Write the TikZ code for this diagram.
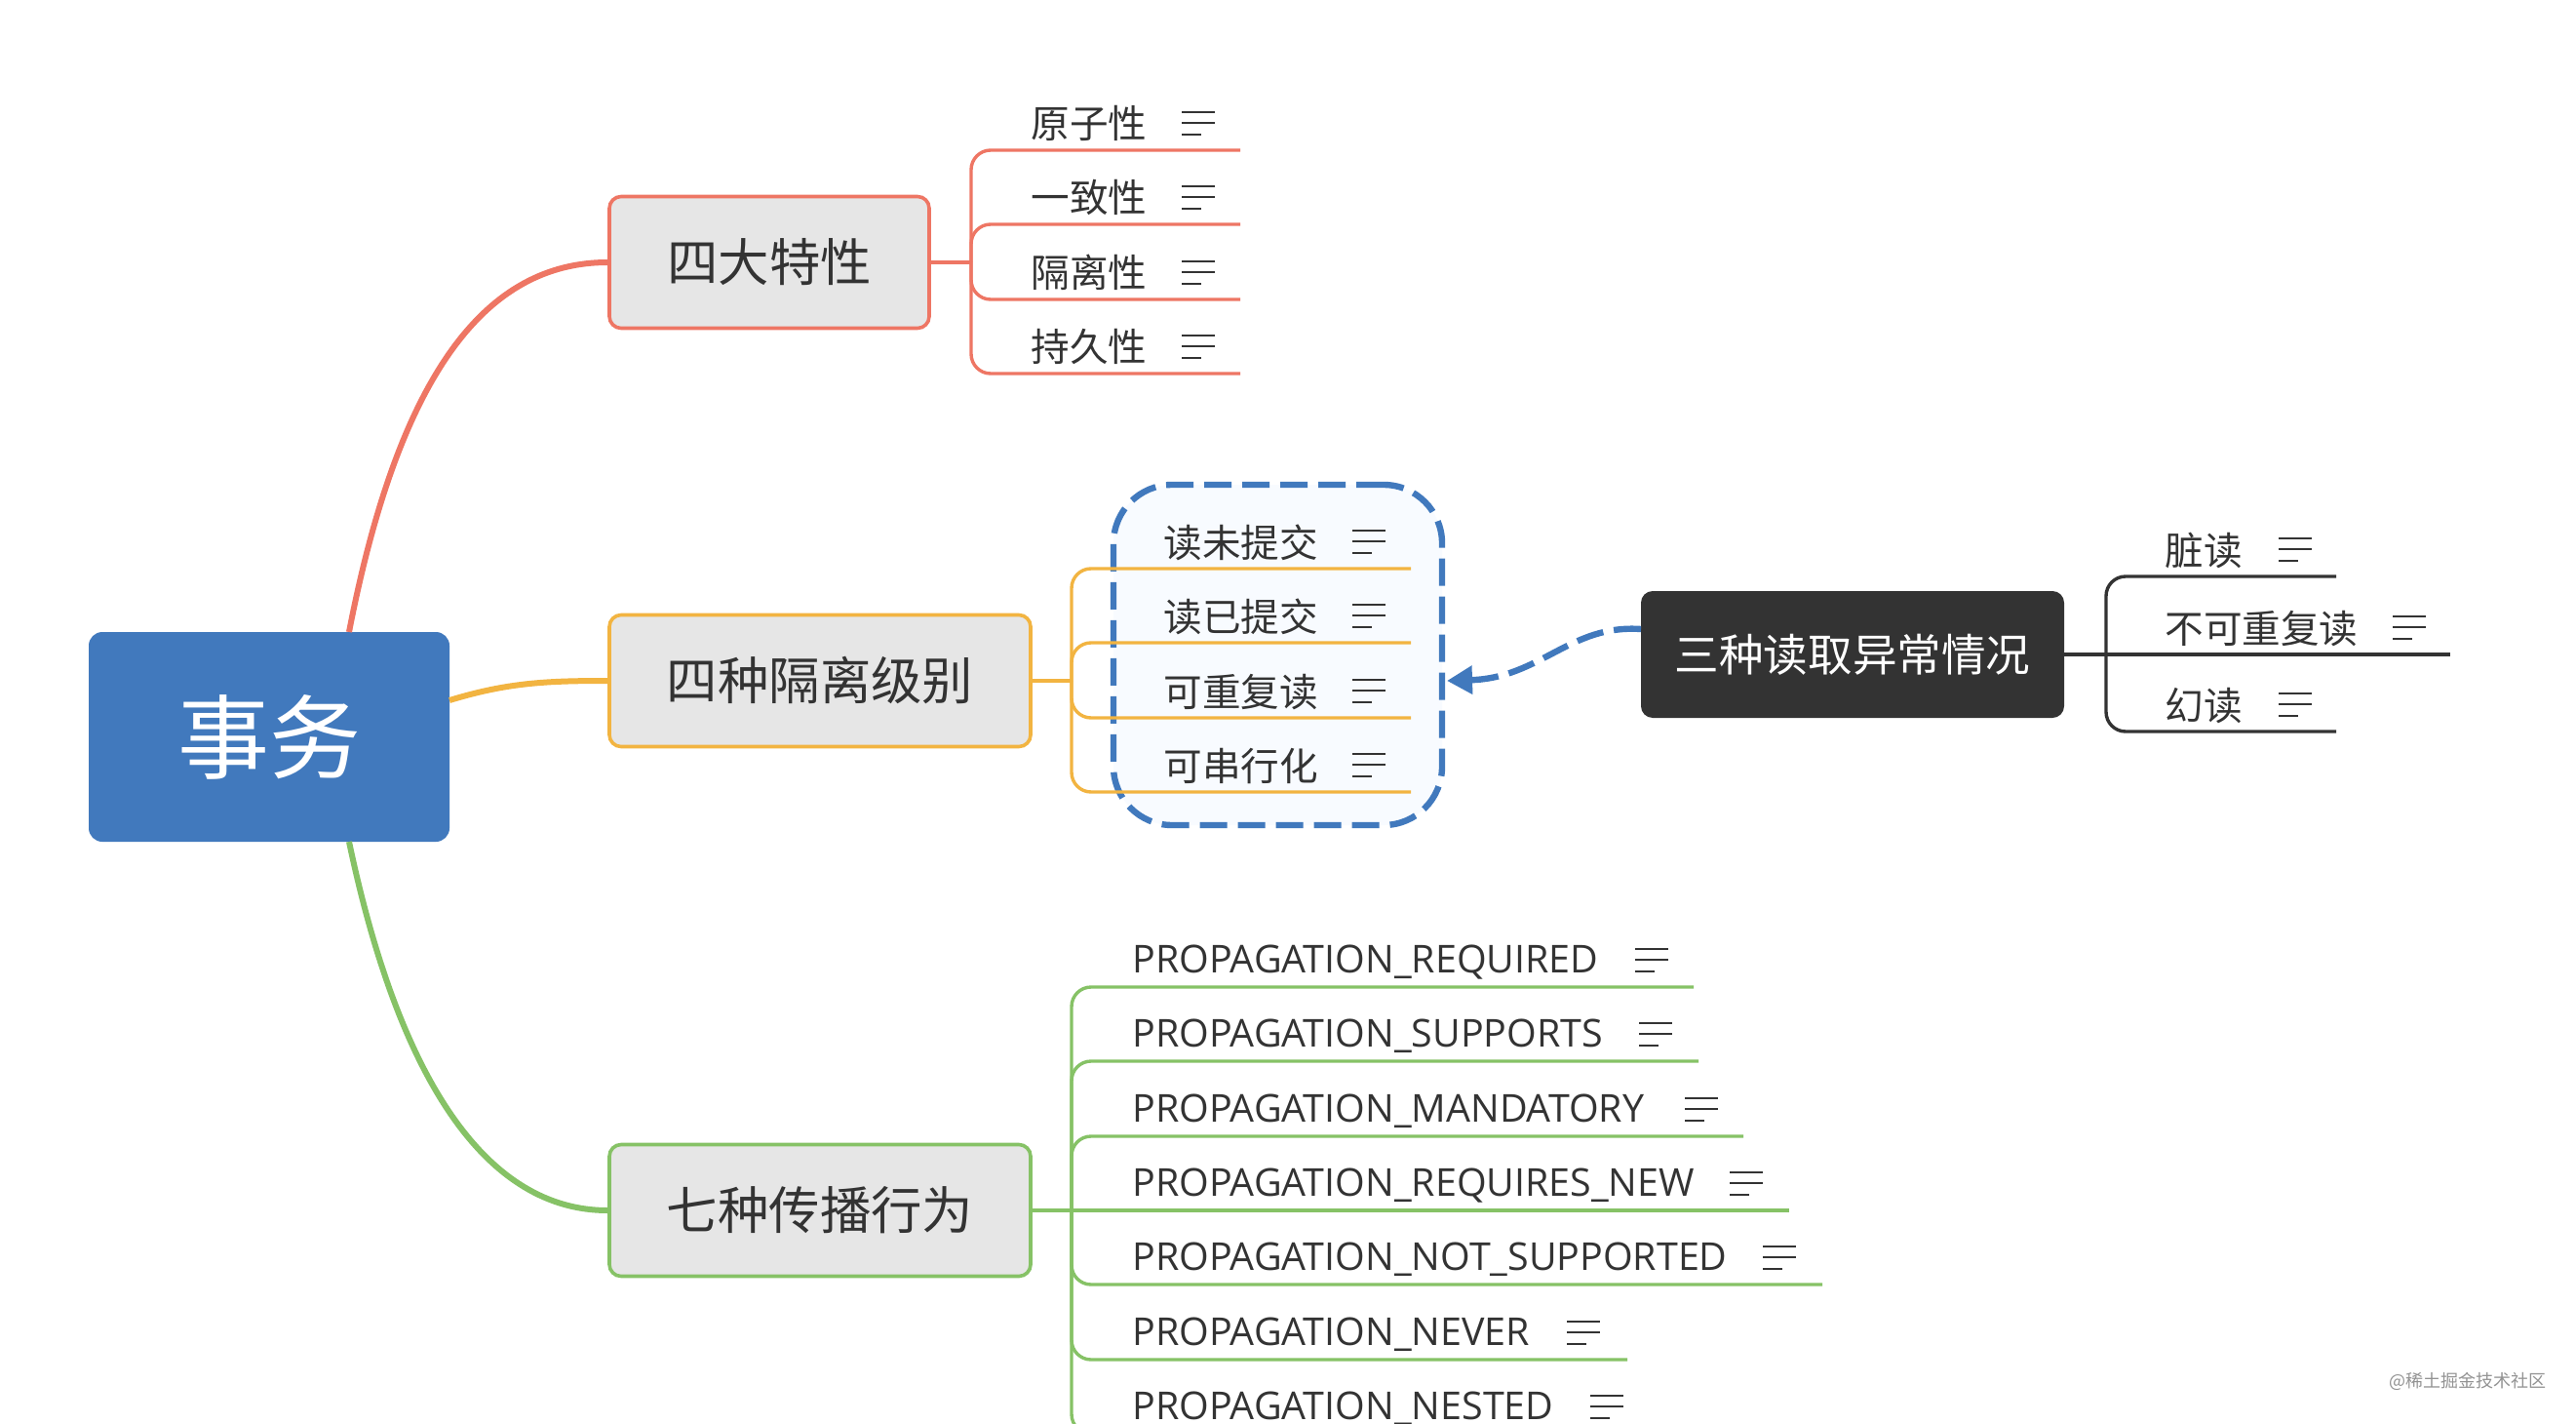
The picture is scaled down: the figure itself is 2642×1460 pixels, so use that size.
\documentclass[tikz,border=0pt]{standalone}
\usepackage{fontspec}
\setmainfont{Open Sans}
\newfontfamily\cjk{Noto Sans CJK SC}
\usetikzlibrary{arrows.meta}
\definecolor{cred}{HTML}{EE7664}
\definecolor{cyel}{HTML}{F2B441}
\definecolor{cgrn}{HTML}{86C266}
\definecolor{cblu}{HTML}{4179BD}
\definecolor{cdrk}{HTML}{333333}
\definecolor{cbox}{HTML}{E6E6E6}
\definecolor{cpale}{HTML}{F8FBFF}
\tikzset{
  x=0.5pt,y=-0.5pt,
  roottopic/.style={fill=cblu,rounded corners=7pt,text=white,inner sep=0pt,minimum width=185pt,minimum height=107.5pt,font=\cjk\fontsize{47}{52}\selectfont},
  maintopic/.style={fill=cbox,draw=#1,line width=1.8pt,rounded corners=6pt,text=cdrk,inner sep=0pt,minimum height=67.5pt,font=\cjk\fontsize{26.2}{30}\selectfont},
  darktopic/.style={fill=cdrk,rounded corners=6pt,text=white,inner sep=0pt,minimum width=217pt,minimum height=65pt,font=\cjk\fontsize{22.8}{26}\selectfont},
  groupbox/.style={fill=cpale,draw=cblu,line width=3.2pt,dash pattern=on 14pt off 5.5pt,rounded corners=30pt,inner sep=0pt,minimum width=168.5pt,minimum height=174.5pt},
  leaftext/.style={text=cdrk,inner sep=0pt,anchor=base west},
  zh/.style={font=\cjk\fontsize{19.8}{23}\selectfont},
  en/.style={font=\fontsize{19.7}{23}\selectfont},
  iconline/.style={draw=cdrk,line width=1.45pt},
  curve/.style={draw=#1,line width=3pt},
  branch/.style={draw=#1,line width=1.7pt,rounded corners=10pt},
  stem/.style={draw=#1,line width=2.1pt},
  note/.style={text=gray!85,inner sep=0pt,font=\cjk\fontsize{9}{11}\selectfont},
}
% name, font style, text, text x, rule y, right x, icon x
\newcommand{\leafrow}[7]{%
  \node[leaftext,#2] (#1) at (#4,{#5-12}) {#3};
  \coordinate (#1e) at (#6,#5);
  \draw[iconline] (#7,{#5-39}) -- +(34,0);
  \draw[iconline] (#7,{#5-28}) -- +(34,0);
  \draw[iconline] (#7,{#5-16}) -- +(20,0);
}
\newcommand{\enrow}[7]{%
  \node[leaftext,#2] (#1) at (#4,{#5-15}) {#3};
  \coordinate (#1e) at (#6,#5);
  \draw[iconline] (#7,{#5-39}) -- +(34,0);
  \draw[iconline] (#7,{#5-28}) -- +(34,0);
  \draw[iconline] (#7,{#5-16}) -- +(20,0);
}
\begin{document}
\begin{tikzpicture}
\useasboundingbox (0,0) rectangle (2642,1460);
\fill[white] (0,0) rectangle (2642,1460);
\begin{scope}
\clip (0,0) rectangle (2642,1460);
% group
\node[groupbox] (group) at (1310.5,671.5) {};
% topics
\node[roottopic] (root) at (276,755.5) {事务};
\node[maintopic=cred,minimum width=164pt] (t1) at (789,269) {四大特性};
\node[maintopic=cyel,minimum width=216pt] (t2) at (841,698) {四种隔离级别};
\node[maintopic=cgrn,minimum width=216pt] (t3) at (841,1241) {七种传播行为};
\node[darktopic] (dark) at (1900,671) {三种读取异常情况};
% curves
\coordinate (rA) at (358,648);
\coordinate (yA) at (461,718);
\coordinate (gA) at (358,863);
\draw[curve=cred] (rA) .. controls (410,380) and (500,269) .. (t1.west);
\draw[curve=cyel] (yA) .. controls (520,700) and (560,698) .. (t2.west);
\draw[curve=cgrn] (gA) .. controls (410,1110) and (500,1241) .. (t3.west);
% red
\coordinate (s1) at (996,269);
\draw[stem=cred] (t1.east) -- (s1);
\leafrow{a1}{zh}{原子性}{1057}{154}{1272}{1212}
\leafrow{a2}{zh}{一致性}{1057}{230}{1272}{1212}
\leafrow{a3}{zh}{隔离性}{1057}{307}{1272}{1212}
\leafrow{a4}{zh}{持久性}{1057}{383}{1272}{1212}
\foreach \n in {a1,a2,a3,a4} \draw[branch=cred] (s1) |- (\n e);
% yellow
\coordinate (s2) at (1099,698);
\draw[stem=cyel] (t2.east) -- (s2);
\leafrow{b1}{zh}{读未提交}{1193}{583}{1447}{1387}
\leafrow{b2}{zh}{读已提交}{1193}{659}{1447}{1387}
\leafrow{b3}{zh}{可重复读}{1193}{736}{1447}{1387}
\leafrow{b4}{zh}{可串行化}{1193}{812}{1447}{1387}
\foreach \n in {b1,b2,b3,b4} \draw[branch=cyel] (s2) |- (\n e);
% dark
\coordinate (s3) at (2160,671);
\leafrow{c1}{zh}{脏读}{2220}{591}{2396}{2337}
\leafrow{c2}{zh}{不可重复读}{2220}{671}{2513}{2454}
\leafrow{c3}{zh}{幻读}{2220}{750}{2396}{2337}
\draw[stem=cdrk] (dark.east) -- (s3);
\draw[branch=cdrk] (s3) |- (c1e);
\draw[branch=cdrk] (s3) |- (c3e);
\draw[branch=cdrk] (s3) -- (c2e);
% green
\coordinate (s4) at (1099,1241);
\draw[stem=cgrn,line width=1.7pt] (t3.east) -- (s4);
\enrow{d1}{en}{PROPAGATION\_REQUIRED}{1161}{1012}{1737}{1677}
\enrow{d2}{en}{PROPAGATION\_SUPPORTS}{1161}{1088}{1742}{1681}
\enrow{d3}{en}{PROPAGATION\_MANDATORY}{1161}{1165}{1788}{1728}
\enrow{d4}{en}{PROPAGATION\_REQUIRES\_NEW}{1161}{1241}{1835}{1774}
\enrow{d5}{en}{PROPAGATION\_NOT\_SUPPORTED}{1161}{1317}{1869}{1808}
\enrow{d6}{en}{PROPAGATION\_NEVER}{1161}{1394}{1669}{1607}
\enrow{d7}{en}{PROPAGATION\_NESTED}{1161}{1470}{1700}{1631}
\foreach \n in {d1,d2,d3,d5,d6,d7} \draw[branch=cgrn] (s4) |- (\n e);
\draw[branch=cgrn] (s4) -- (d4e);
% dependency arrow
\coordinate (arS) at (1683,645);
\coordinate (arE) at (1484,698);
\draw[draw=cblu,line width=3.2pt,dash pattern=on 14pt off 5.5pt,-{Triangle[length=13pt,width=14pt,fill=cblu]}] (arS) .. controls (1610,640) and (1580,695) .. (arE);
% watermark
\node[note,anchor=west] (mark) at (2450,1416) {@稀土掘金技术社区};
\end{scope}
\end{tikzpicture}
\end{document}
